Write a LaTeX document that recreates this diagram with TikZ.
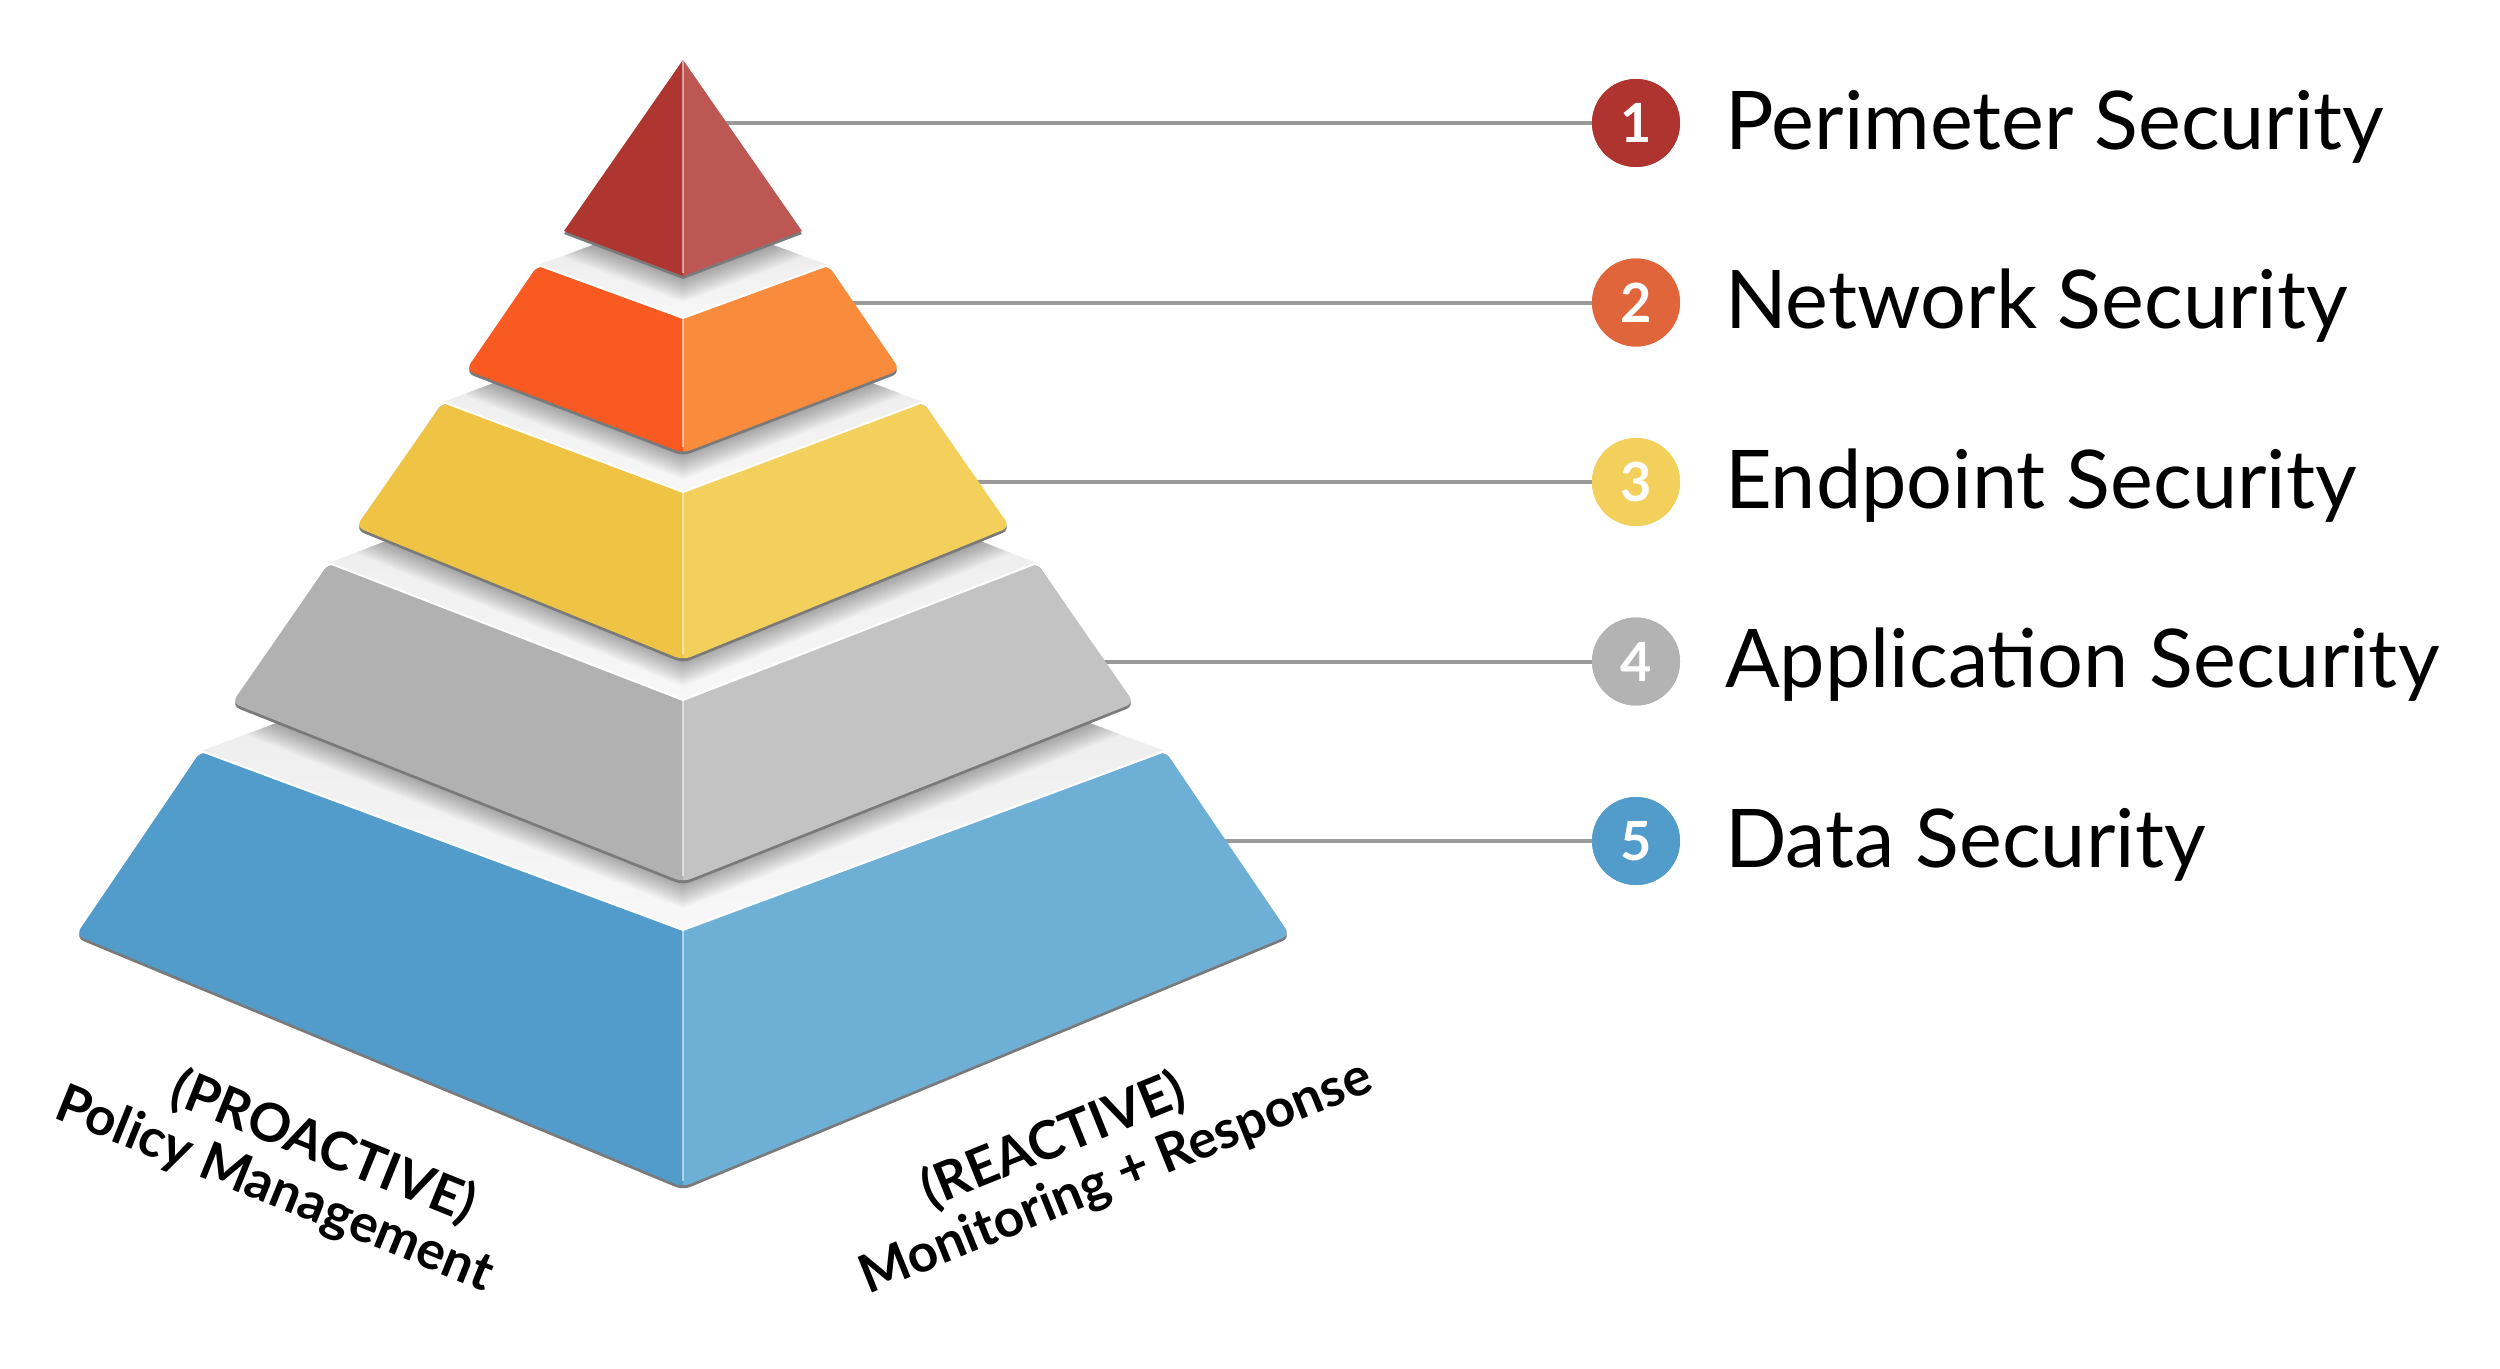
\documentclass[tikz,border=0pt]{standalone}
\usepackage{fontspec}
\setmainfont{Lato}
\usetikzlibrary{calc}
\definecolor{redL}{HTML}{AF3530}
\definecolor{redR}{HTML}{BC5754}
\definecolor{orL}{HTML}{F85A22}
\definecolor{orR}{HTML}{F98B3C}
\definecolor{yeL}{HTML}{EFC444}
\definecolor{yeR}{HTML}{F2D05B}
\definecolor{grL}{HTML}{B1B1B1}
\definecolor{grR}{HTML}{C3C3C3}
\definecolor{blL}{HTML}{529CCB}
\definecolor{blR}{HTML}{6EAFD6}
\definecolor{cA}{HTML}{AF3430}
\definecolor{cB}{HTML}{E0653B}
\definecolor{cC}{HTML}{F2D05B}
\definecolor{cD}{HTML}{B3B3B3}
\definecolor{cE}{HTML}{529CCB}
\definecolor{connc}{HTML}{9A9A9A}
\definecolor{rimc}{HTML}{7A7A7A}
\definecolor{tfback}{HTML}{E6E6E6}
\definecolor{tffront}{HTML}{F8F8F8}
\tikzset{
  conn/.style={draw=connc, line width=4pt},
  circ/.style={circle, minimum size=88pt, inner sep=0pt, text=white,
    font=\fontsize{54}{54}\selectfont\bfseries},
  lbl/.style={anchor=base west, inner sep=0pt, text=black,
    font=\fontsize{81}{92}\selectfont},
  side/.style={inner sep=0pt, text=black, align=center,
    font=\fontsize{53}{57}\selectfont\bfseries},
  hl/.style={white, opacity=0.5, line width=2.5pt},
  edgehl/.style={white, line width=2pt, line join=round},
  shd/.style={black, opacity=0.028},
}
% faces of a frustum tier: #1 prefix, #2 left colour, #3 right colour
\newcommand\tierfaces[3]{%
  \fill[rimc, rounded corners=8pt] ($($(#1bF)!0.5!(#1bL)$)+(0,3)$) -- ($(#1bL)+(0,3)$) -- (#1tL) -- (#1tF) -- (#1tR) -- ($(#1bR)+(0,3)$) -- ($(#1bF)+(0,3)$) -- cycle;
  \begin{scope}
    \clip[rounded corners=8pt] ($(#1bF)!0.5!(#1bL)$) -- (#1bL) -- (#1tL) -- (#1tF) -- (#1tR) -- (#1bR) -- (#1bF) -- cycle;
    \fill[#2] (0,0) rectangle (683,1368);
    \fill[#3] (683,0) rectangle (2500,1368);
  \end{scope}
  \draw[hl] (#1tF) -- ($(#1bF)+(0,-6)$);
}
\newcommand\topface[1]{%
  \shade[top color=tfback, bottom color=tffront] (#1tL) -- (#1tB) -- (#1tR) -- (#1tF) -- cycle;
  \draw[edgehl] (#1tL) -- (#1tF) -- (#1tR);
}
% shadow of the tier #2 onto the top face of tier #1
\newcommand\shadowon[2]{%
  \begin{scope}
    \clip (#1tL) -- (#1tB) -- (#1tR) -- (#1tF) -- cycle;
    \foreach \s in {2,4,...,26}{
      \fill[shd] ($(#2tL)+(0,\s)$) -- ($(#2tB)+(0,\s)$) -- ($(#2tR)+(0,\s)$) -- ($(#2bR)+(0,\s)$) -- ($(#2bF)+(0,\s)$) -- ($(#2bL)+(0,\s)$) -- cycle;
    }
  \end{scope}
}
\begin{document}
\begin{tikzpicture}[x=1pt,y=-1pt]
\useasboundingbox (0,0) rectangle (2500,1368);
\fill[white] (0,0) rectangle (2500,1368);
% ---- geometry ----
\coordinate (rA) at (683,60);
\coordinate (rbL) at (564,231);
\coordinate (rbF) at (683,276);
\coordinate (rbR) at (802,231);
\coordinate (otL) at (538,265);
\coordinate (otF) at (683,318);
\coordinate (otR) at (828,265);
\coordinate (otB) at (683,212);
\coordinate (obL) at (466,370);
\coordinate (obF) at (683,453);
\coordinate (obR) at (900,370);
\coordinate (ytL) at (443,402);
\coordinate (ytF) at (683,492);
\coordinate (ytR) at (923,402);
\coordinate (ytB) at (683,312);
\coordinate (ybL) at (356,527);
\coordinate (ybF) at (683,660);
\coordinate (ybR) at (1010,527);
\coordinate (gtL) at (329,563);
\coordinate (gtF) at (683,700);
\coordinate (gtR) at (1037,563);
\coordinate (gtB) at (683,426);
\coordinate (gbL) at (232,703);
\coordinate (gbF) at (683,882);
\coordinate (gbR) at (1134,703);
\coordinate (btL) at (201,751);
\coordinate (btF) at (683,930);
\coordinate (btR) at (1165,751);
\coordinate (btB) at (683,572);
\coordinate (bbL) at (76,935);
\coordinate (bbF) at (683,1187);
\coordinate (bbR) at (1290,935);
% ---- legend nodes ----
\node[circ, fill=cA] (n1) at (1636,123) {1};
\node[circ, fill=cB] (n2) at (1636,302.5) {2};
\node[circ, fill=cC] (n3) at (1636,482) {3};
\node[circ, fill=cD] (n4) at (1636,661.5) {4};
\node[circ, fill=cE] (n5) at (1636,841) {5};
\node[lbl] (t1) at (1725,149) {Perimeter Security};
\node[lbl] (t2) at (1725,328.5) {Network Security};
\node[lbl] (t3) at (1725,508) {Endpoint Security};
\node[lbl] (t4) at (1725,687.5) {Application Security};
\node[lbl] (t5) at (1725,867) {Data Security};
% ---- connectors (behind pyramid) ----
\coordinate (e1) at (720,123);
\coordinate (e2) at (845,302.5);
\coordinate (e3) at (970,482);
\coordinate (e4) at (1100,661.5);
\coordinate (e5) at (1220,841);
\draw[conn] (e1) -- (n1.west);
\draw[conn] (e2) -- (n2.west);
\draw[conn] (e3) -- (n3.west);
\draw[conn] (e4) -- (n4.west);
\draw[conn] (e5) -- (n5.west);
% ---- pyramid ----
\tierfaces{b}{blL}{blR}
\topface{b}
\shadowon{b}{g}
\tierfaces{g}{grL}{grR}
\topface{g}
\shadowon{g}{y}
\tierfaces{y}{yeL}{yeR}
\topface{y}
\shadowon{y}{o}
\tierfaces{o}{orL}{orR}
\topface{o}
\begin{scope}
  \clip (otL) -- (otB) -- (otR) -- (otF) -- cycle;
  \foreach \s in {2,4,...,26}{
    \fill[shd] ($(rA)+(0,\s)$) -- ($(rbR)+(0,\s)$) -- ($(rbF)+(0,\s)$) -- ($(rbL)+(0,\s)$) -- cycle;
  }
\end{scope}
\fill[rimc] (rA) -- ($(rbR)+(0,3)$) -- ($(rbF)+(0,3)$) -- ($(rbL)+(0,3)$) -- cycle;
\fill[redL] (rA) -- (rbF) -- (rbL) -- cycle;
\fill[redR] (rA) -- (rbR) -- (rbF) -- cycle;
\draw[hl] (rA) -- ($(rbF)+(0,-3)$);
% circles above their connectors
\node[circ, fill=cA] at (n1) {1};
\node[circ, fill=cB] at (n2) {2};
\node[circ, fill=cC] at (n3) {3};
\node[circ, fill=cD] at (n4) {4};
\node[circ, fill=cE] at (n5) {5};
% ---- side captions ----
\node[side, rotate=-22] (pro) at (285,1163) {\hspace*{60pt}(PROACTIVE)\\Policy Management};
\node[side, rotate=22] (rea) at (1105,1151) {(REACTIVE)\hspace*{88pt}\\Monitoring + Response};
\end{tikzpicture}
\end{document}
